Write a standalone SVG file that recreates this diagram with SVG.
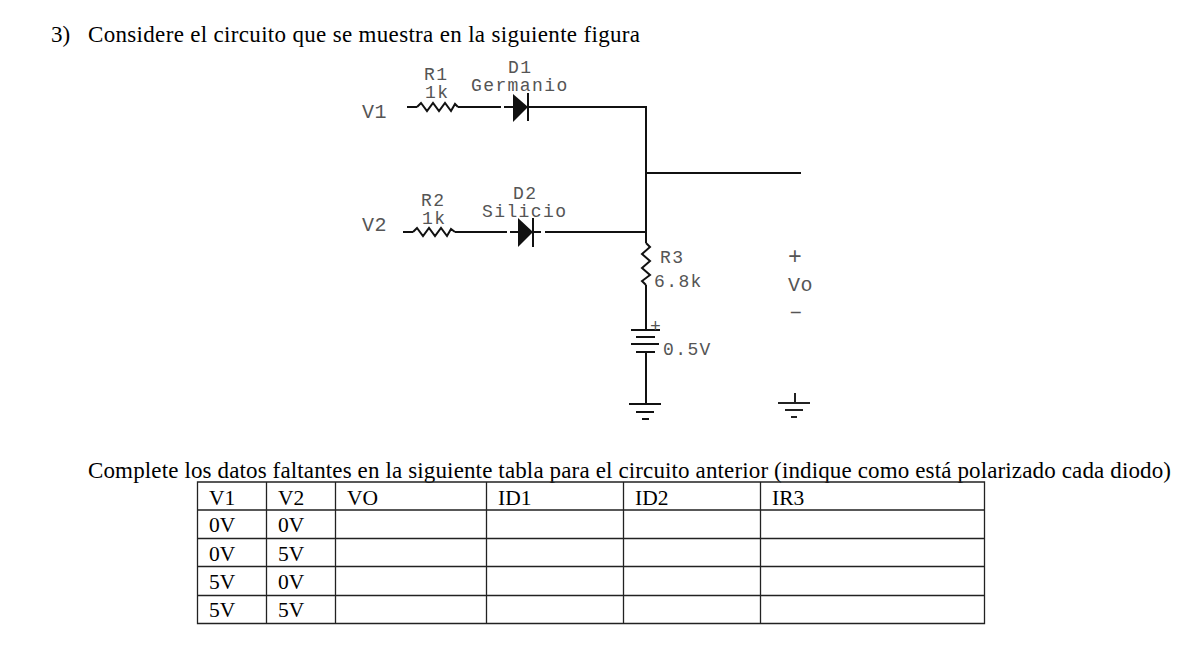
<svg xmlns="http://www.w3.org/2000/svg" width="1199" height="649" viewBox="0 0 1199 649">
<style>
.w{fill:none;stroke:#111;stroke-width:2}
.g{fill:none;stroke:#222;stroke-width:2}
.t{fill:none;stroke:#222;stroke-width:1.3}
.s{font-family:"Liberation Serif","Times New Roman",serif;font-size:23px;fill:#000}
.c{font-family:"Liberation Serif","Times New Roman",serif;font-size:21.500px;fill:#000}
.m{font-family:"Liberation Mono","Courier New",monospace;font-size:18px;letter-spacing:1.4px;fill:#555}
.l{font-size:20px;letter-spacing:0.5px}
.b{fill:#111}
</style>
<rect width="1199" height="649" fill="#fff"/>
<g id="heading">
<text class="s" x="51" y="42">3)</text>
<text class="s" x="88" y="42" textLength="552">Considere el circuito que se muestra en la siguiente figura</text>
</g>
<g id="connectors">
<path class="w" d="M407 107H417M458 107H501M504 107H513M528 107H646V232M646 173H801"/>
<path class="w" d="M403 232H413M455 232H507M510 232H518M533 232H541M545 232H646V243M646 285V330M646 352V404"/>
</g>
<g id="R1">
<path class="w" d="M417 107L421 103L427 111L433 103L439 111L445 103L451 111L455 104L458 107"/>
<text class="m" x="424" y="80">R1</text>
<text class="m" x="425" y="98">1k</text>
</g>
<g id="R2">
<path class="w" d="M413 232L417 228L423 236L429 228L435 236L441 228L447 236L451 229L455 232"/>
<text class="m" x="421" y="206">R2</text>
<text class="m" x="422" y="224">1k</text>
</g>
<g id="D1">
<path class="b" d="M513 94L528 107L513 122Z"/>
<path class="w" d="M528 93V121"/>
<text class="m" x="508" y="73">D1</text>
<text class="m" x="471" y="91">Germanio</text>
</g>
<g id="D2">
<path class="b" d="M518 218L533 232L518 247Z"/>
<path class="w" d="M533 218V247"/>
<text class="m" x="513" y="199">D2</text>
<text class="m" x="482" y="217">Silicio</text>
</g>
<g id="V1"><text class="m l" x="362" y="118">V1</text></g>
<g id="V2"><text class="m l" x="362" y="231">V2</text></g>
<g id="R3">
<path class="w" d="M646 243L650 247L642 254L650 261L642 268L650 275L642 281L646 285"/>
<text class="m" x="660" y="263">R3</text>
<text class="m" x="654" y="287">6.8k</text>
</g>
<g id="battery">
<path class="w" d="M631 330H660M636 337H655M631 344H659M636 352H655"/>
<text class="m" x="650" y="332">+</text>
<text class="m" x="663" y="355">0.5V</text>
</g>
<g id="ground-left">
<path class="w" d="M629 404H661M636 412H654M642 419H649"/>
</g>
<g id="ground-right">
<path class="g" d="M795 393V403M778 403H810M785 410H803M791 417H797"/>
</g>
<g id="vo">
<text class="m" x="788" y="264" style="font-size:23px">+</text>
<text class="m l" x="788" y="291">Vo</text>
<text class="m" transform="translate(785 318) scale(2 1)">-</text>
</g>
<g id="question">
<text class="s" x="88" y="478" textLength="1083">Complete los datos faltantes en la siguiente tabla para el circuito anterior (indique como está polarizado cada diodo)</text>
</g>
<g id="table">
<path class="t" d="M197.500 482H984.500V623.500H197.500ZM197.500 510H984.500M197.500 538.500H984.500M197.500 566.500H984.500M197.500 595.500H984.500M266.500 482V623.500M335.500 482V623.500M486.500 482V623.500M623.500 482V623.500M760.500 482V623.500"/>
<text class="c" x="209" y="505">V1</text><text class="c" x="278" y="505">V2</text><text class="c" x="347" y="505">VO</text><text class="c" x="498" y="505">ID1</text><text class="c" x="635" y="505">ID2</text><text class="c" x="772" y="505">IR3</text>
<text class="c" x="209" y="532">0V</text><text class="c" x="278" y="532">0V</text>
<text class="c" x="209" y="561">0V</text><text class="c" x="278" y="561">5V</text>
<text class="c" x="209" y="589">5V</text><text class="c" x="278" y="589">0V</text>
<text class="c" x="209" y="617">5V</text><text class="c" x="278" y="617">5V</text>
</g>
</svg>
